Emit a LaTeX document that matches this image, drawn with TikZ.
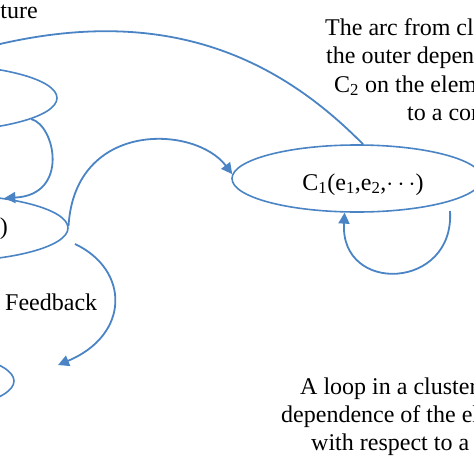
\documentclass[tikz,border=0pt]{standalone}
\usepackage{fontspec}
\setmainfont{Liberation Serif}
\usetikzlibrary{arrows.meta,shapes.geometric}
\definecolor{lineblue}{HTML}{4A84C4}
\begin{document}
\begin{tikzpicture}[x=1pt,y=-1pt,
  cluster/.style={draw=lineblue, line width=1.6pt, ellipse, minimum width=250pt, minimum height=67pt, inner sep=0pt},
  link/.style={draw=lineblue, line width=1.8pt, -{Triangle[length=11pt,width=11pt]}},
  plainlink/.style={draw=lineblue, line width=1.8pt},
  txt/.style={font=\fontsize{24}{28.5}\selectfont, inner sep=0pt, text=black}]
\useasboundingbox (0,0) rectangle (474,474);
\clip (0,0) rectangle (474,474);

% clusters
\node[cluster] (ct) at (-68,98) {};
\node[cluster] (cm) at (-57,228) {};
\node[cluster] (cb) at (-111,381) {};
\node[cluster] (c1) at (357,178.5) {};

% cluster labels
\node[txt, anchor=base] (c1t) at (363,190) {C\textsubscript{1}(e\textsubscript{1},e\textsubscript{2},$\cdots$)};
\node[txt, anchor=base east] (cmt) at (8,234) {C\textsubscript{2}(e\textsubscript{1},e\textsubscript{2},$\cdots$)};

% free ends
\coordinate (arcend) at (0,44);
\coordinate (fbs) at (75,244);
\coordinate (fbe) at (58,365);
\coordinate (l1s) at (450,211);

% connectors
\draw[plainlink] (c1.80) .. controls (280,60) and (170,5) .. (arcend);
\draw[link] (ct.-12) .. controls (55,125) and (70,195) .. (cm.26);
\draw[link] (cm.1) .. controls (75,120) and (195,125) .. (c1.178);
\draw[link] (fbs) .. controls (130,270) and (130,335) .. (fbe);
\draw[link] (l1s) .. controls (455,290) and (340,295) .. (c1.-110);

% texts
\node[txt, anchor=base east] (ttl) at (38,18) {Network structure};
\node[txt, anchor=base west] (fb) at (5,310) {Feedback};

\node[txt, anchor=base west] (a1) at (325,35) {The arc from cluster C\textsubscript{1} to};
\node[txt, anchor=base west] (a2) at (326,63) {the outer dependence of};
\node[txt, anchor=base west] (a3) at (334,92) {C\textsubscript{2} on the elements of C\textsubscript{1}};
\node[txt, anchor=base west] (a4) at (407,120) {to a common property};

\node[txt, anchor=base west] (b1) at (300,394) {A loop in a cluster indicates};
\node[txt, anchor=base west] (b2) at (281,422) {dependence of the elements};
\node[txt, anchor=base west] (b3) at (311,450) {with respect to a common property};
\end{tikzpicture}
\end{document}
